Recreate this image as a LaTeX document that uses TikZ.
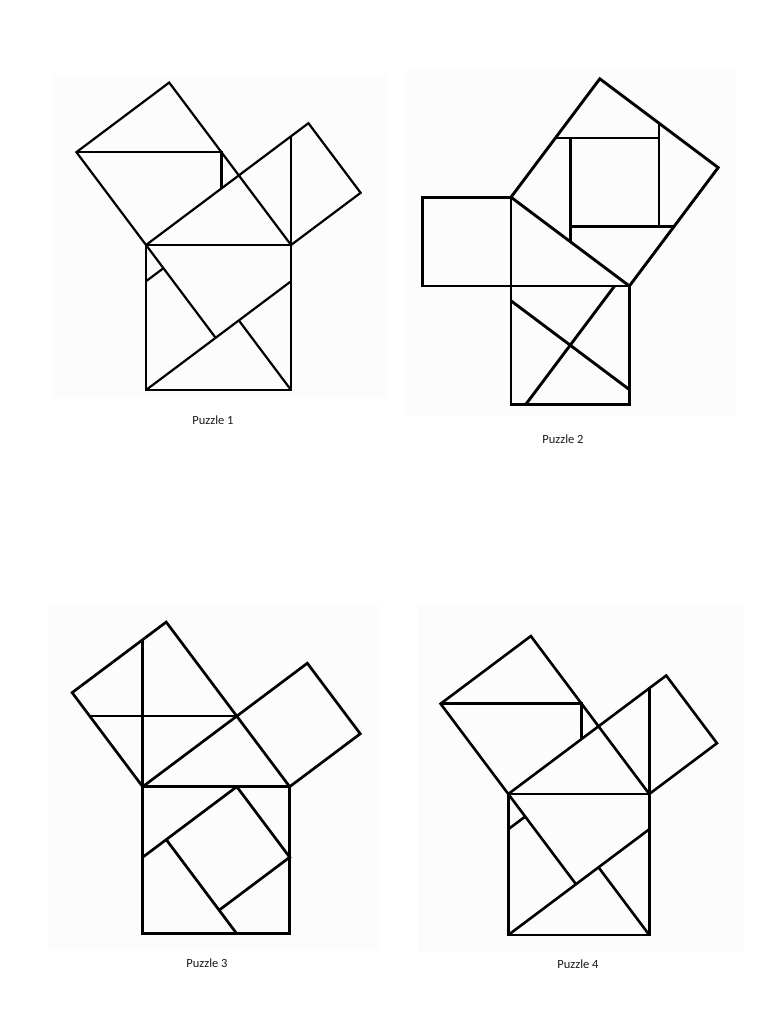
\documentclass[tikz,border=0pt]{standalone}
\usepackage{fontspec}
\setmainfont{Carlito}
\begin{document}
\begin{tikzpicture}[x=1pt, y=-1pt,
	bar/.style={line width=2.2pt},
	shade/.style={fill=black!1.2, draw=none},
	title/.style={inner sep=0pt, text=black!90, font=\fontsize{12.5}{15}\selectfont}]
	\useasboundingbox[fill=white] (0,0) rectangle (768,1024);
	% faint paper behind each puzzle
	\fill[shade] (52,75) rectangle (387,398);
	\fill[shade] (405,70) rectangle (735,415);
	\fill[shade] (48,605) rectangle (380,950);
	\fill[shade] (418,605) rectangle (743,952);
	% Puzzle 1
	\begin{scope}[shift={(146,245)}, x=29pt, y=29pt, bar/.append style={line width=2.2pt}]
	\draw[bar] (0,0) -- (5,0) -- (5,-5) -- (0,-5) -- cycle;
	\draw[bar] (0,0) -- (3.2,2.4) -- (0.8,5.6) -- (-2.4,3.2) -- cycle;
	\draw[bar] (3.2,2.4) -- (5,0) -- (7.4,1.8) -- (5.6,4.2) -- cycle;
	\draw[bar] (-2.4,3.2) -- (2.6,3.2) -- (2.6,1.95);
	\draw[bar] (5,0) -- (5,3.75);
	\draw[bar] (0,0) -- (2.4,-3.2);
	\draw[bar] (0,-5) -- (5,-1.25);
	\draw[bar] (5,-5) -- (3.2,-2.6);
	\draw[bar] (0,-1.25) -- (0.6,-0.8);
	\end{scope}
	\node[title] (lab1) at (213,420) {Puzzle 1};
	% Puzzle 2
	\begin{scope}[shift={(511,286)}, x=29.6pt, y=29.6pt, bar/.append style={line width=2.9pt}]
	\draw[bar] (-3,0) rectangle (0,3);
	\draw[bar] (0,0) rectangle (4,-4);
	\draw[bar] (0,3) -- (4,0) -- (7,4) -- (3,7) -- cycle;
	\draw[bar] (1.5,5) -- (5,5);
	\draw[bar] (5,5.5) -- (5,2);
	\draw[bar] (2,2) -- (5.5,2);
	\draw[bar] (2,5) -- (2,1.5);
	\draw[bar] (0,-0.5) -- (4,-3.5);
	\draw[bar] (3.5,0) -- (0.5,-4);
	\end{scope}
	\node[title] (lab2) at (563,439) {Puzzle 2};
	% Puzzle 3
	\begin{scope}[shift={(142.7,786.7)}, x=29.4pt, y=29.4pt, bar/.append style={line width=2.7pt}]
	\draw[bar] (0,0) -- (5,0) -- (5,-5) -- (0,-5) -- cycle;
	\draw[bar] (0,0) -- (3.2,2.4) -- (0.8,5.6) -- (-2.4,3.2) -- cycle;
	\draw[bar] (3.2,2.4) -- (5,0) -- (7.4,1.8) -- (5.6,4.2) -- cycle;
	\draw[bar] (0,0) -- (0,5);
	\draw[bar] (-1.8,2.4) -- (3.2,2.4);
	\draw[bar] (0,-2.4) -- (3.2,0) -- (5,-2.4) -- (2.6,-4.2);
	\draw[bar] (0.8,-1.8) -- (3.2,-5);
	\end{scope}
	\node[title] (lab3) at (207,963) {Puzzle 3};
	% Puzzle 4
	\begin{scope}[shift={(508.3,794)}, x=28.2pt, y=28.2pt, bar/.append style={line width=2.6pt}]
	\draw[bar] (0,0) -- (5,0) -- (5,-5) -- (0,-5) -- cycle;
	\draw[bar] (0,0) -- (3.2,2.4) -- (0.8,5.6) -- (-2.4,3.2) -- cycle;
	\draw[bar] (3.2,2.4) -- (5,0) -- (7.4,1.8) -- (5.6,4.2) -- cycle;
	\draw[bar] (-2.4,3.2) -- (2.6,3.2) -- (2.6,1.95);
	\draw[bar] (5,0) -- (5,3.75);
	\draw[bar] (0,0) -- (2.4,-3.2);
	\draw[bar] (0,-5) -- (5,-1.25);
	\draw[bar] (5,-5) -- (3.2,-2.6);
	\draw[bar] (0,-1.25) -- (0.6,-0.8);
	\end{scope}
	\node[title] (lab4) at (578,964) {Puzzle 4};
\end{tikzpicture}
\end{document}
